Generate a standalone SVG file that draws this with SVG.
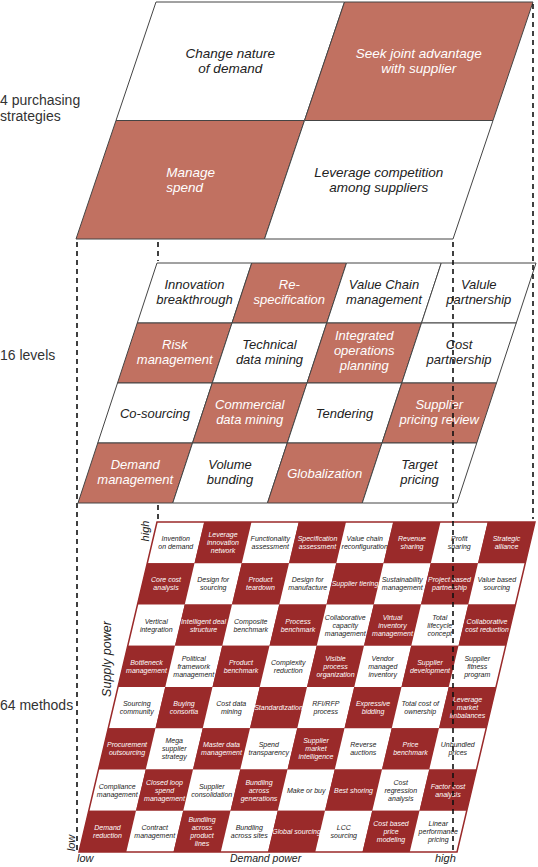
<svg xmlns="http://www.w3.org/2000/svg" xmlns:xlink="http://www.w3.org/1999/xlink" width="538" height="867" viewBox="0 0 538 867">
<style>
.t{font-family:"Liberation Sans",Arial,sans-serif;font-style:italic}
.lab{font-family:"Liberation Sans",Arial,sans-serif;font-size:14px;fill:#333}
.big{font-size:13.5px;text-anchor:middle}
.mid{font-size:13px;text-anchor:middle}
.sm{font-size:7px;text-anchor:middle}
.ax{font-size:11px;fill:#222}
.dk{fill:#222}
.wt{fill:#fff}
.cr{fill:#C17161;stroke:#444;stroke-width:1}
.cw{fill:#fff;stroke:#444;stroke-width:1}
.br{fill:#9A2A2A}
.bw{fill:#fff}
.dash{stroke:#111;stroke-width:1.6;stroke-dasharray:5 4;fill:none}
</style>
<defs>
<polygon id="pT" points="-74.25,-59.25 114.25,-59.25 74.25,59.25 -114.25,59.25"/>
<polygon id="pM" points="-37.5,-30 57.25,-30 37.5,30 -57.25,30"/>
<polygon id="pB" points="-18.75,-20.625 28.5,-20.625 18.75,20.625 -28.5,20.625"/>
</defs>
<rect width="538" height="867" fill="#fff"/>

<g id="labels">
<text class="lab" x="0" y="105">4 purchasing</text>
<text class="lab" x="0" y="121">strategies</text>
<text class="lab" x="0" y="360">16 levels</text>
<text class="lab" x="0" y="710">64 methods</text>
</g>

<g id="strategies">
<g id="s-change" transform="translate(230.25,61.25)"><use href="#pT" class="cw"/><text class="t big dk"><tspan x="0" y="-3.5">Change nature</tspan><tspan x="0" y="12">of demand</tspan></text></g>
<g id="s-seek" transform="translate(418.75,61.25)"><use href="#pT" class="cr"/><text class="t big wt"><tspan x="0" y="-3.5">Seek joint advantage</tspan><tspan x="0" y="12">with supplier</tspan></text></g>
<g id="s-manage" transform="translate(190.25,179.75)"><use href="#pT" class="cr"/><text class="t wt" style="font-size:13.5px"><tspan x="-24" y="-3">Manage</tspan><tspan x="-24" y="12.5">spend</tspan></text></g>
<g id="s-leverage" transform="translate(378.75,179.75)"><use href="#pT" class="cw"/><text class="t big dk"><tspan x="0" y="-3">Leverage competition</tspan><tspan x="0" y="12.5">among suppliers</tspan></text></g>
</g>

<g id="levels">
<g id="l-1-1" transform="translate(194.5,293)"><use href="#pM" class="cw"/><text class="t mid dk"><tspan x="0" y="-4">Innovation</tspan><tspan x="0" y="11">breakthrough</tspan></text></g>
<g id="l-1-2" transform="translate(289.25,293)"><use href="#pM" class="cr"/><text class="t mid wt"><tspan x="0" y="-4">Re-</tspan><tspan x="0" y="11">specification</tspan></text></g>
<g id="l-1-3" transform="translate(384,293)"><use href="#pM" class="cw"/><text class="t mid dk"><tspan x="0" y="-4">Value Chain</tspan><tspan x="0" y="11">management</tspan></text></g>
<g id="l-1-4" transform="translate(478.75,293)"><use href="#pM" class="cw"/><text class="t mid dk"><tspan x="0" y="-4">Valule</tspan><tspan x="0" y="11">partnership</tspan></text></g>

<g id="l-2-1" transform="translate(174.75,353)"><use href="#pM" class="cr"/><text class="t mid wt"><tspan x="0" y="-4">Risk</tspan><tspan x="0" y="11">management</tspan></text></g>
<g id="l-2-2" transform="translate(269.5,353)"><use href="#pM" class="cw"/><text class="t mid dk"><tspan x="0" y="-4">Technical</tspan><tspan x="0" y="11">data mining</tspan></text></g>
<g id="l-2-3" transform="translate(364.25,353)"><use href="#pM" class="cr"/><text class="t mid wt"><tspan x="0" y="-13">Integrated</tspan><tspan x="0" y="2">operations</tspan><tspan x="0" y="17">planning</tspan></text></g>
<g id="l-2-4" transform="translate(459,353)"><use href="#pM" class="cw"/><text class="t mid dk"><tspan x="0" y="-4">Cost</tspan><tspan x="0" y="11">partnership</tspan></text></g>

<g id="l-3-1" transform="translate(155,413)"><use href="#pM" class="cw"/><text class="t mid dk"><tspan x="0" y="5">Co-sourcing</tspan></text></g>
<g id="l-3-2" transform="translate(249.75,413)"><use href="#pM" class="cr"/><text class="t mid wt"><tspan x="0" y="-4">Commercial</tspan><tspan x="0" y="11">data mining</tspan></text></g>
<g id="l-3-3" transform="translate(344.5,413)"><use href="#pM" class="cw"/><text class="t mid dk"><tspan x="0" y="5">Tendering</tspan></text></g>
<g id="l-3-4" transform="translate(439.25,413)"><use href="#pM" class="cr"/><text class="t mid wt"><tspan x="0" y="-4">Supplier</tspan><tspan x="0" y="11">pricing review</tspan></text></g>

<g id="l-4-1" transform="translate(135.25,473)"><use href="#pM" class="cr"/><text class="t mid wt"><tspan x="0" y="-4">Demand</tspan><tspan x="0" y="11">management</tspan></text></g>
<g id="l-4-2" transform="translate(230,473)"><use href="#pM" class="cw"/><text class="t mid dk"><tspan x="0" y="-4">Volume</tspan><tspan x="0" y="11">bunding</tspan></text></g>
<g id="l-4-3" transform="translate(324.75,473)"><use href="#pM" class="cr"/><text class="t mid wt"><tspan x="0" y="5">Globalization</tspan></text></g>
<g id="l-4-4" transform="translate(419.5,473)"><use href="#pM" class="cw"/><text class="t mid dk"><tspan x="0" y="-4">Target</tspan><tspan x="0" y="11">pricing</tspan></text></g>
</g>

<g id="methods">
<polygon points="157,522 535,522 457,852 79,852" fill="#9A2A2A"/>
<g id="m-1-1" transform="translate(175.75,542.625)"><use href="#pB" class="bw"/><text class="t sm dk"><tspan x="0" y="-1.5">Invention</tspan><tspan x="0" y="6.5">on demand</tspan></text></g>
<g id="m-1-2" transform="translate(223,542.625)"><use href="#pB" class="br"/><text class="t sm wt"><tspan x="0" y="-5.5">Leverage</tspan><tspan x="0" y="2.5">innovation</tspan><tspan x="0" y="10.5">network</tspan></text></g>
<g id="m-1-3" transform="translate(270.25,542.625)"><use href="#pB" class="bw"/><text class="t sm dk"><tspan x="0" y="-1.5">Functionality</tspan><tspan x="0" y="6.5">assessment</tspan></text></g>
<g id="m-1-4" transform="translate(317.5,542.625)"><use href="#pB" class="br"/><text class="t sm wt"><tspan x="0" y="-1.5">Specification</tspan><tspan x="0" y="6.5">assessment</tspan></text></g>
<g id="m-1-5" transform="translate(364.75,542.625)"><use href="#pB" class="bw"/><text class="t sm dk"><tspan x="0" y="-1.5">Value chain</tspan><tspan x="0" y="6.5">reconfiguration</tspan></text></g>
<g id="m-1-6" transform="translate(412,542.625)"><use href="#pB" class="br"/><text class="t sm wt"><tspan x="0" y="-1.5">Revenue</tspan><tspan x="0" y="6.5">sharing</tspan></text></g>
<g id="m-1-7" transform="translate(459.25,542.625)"><use href="#pB" class="bw"/><text class="t sm dk"><tspan x="0" y="-1.5">Profit</tspan><tspan x="0" y="6.5">sharing</tspan></text></g>
<g id="m-1-8" transform="translate(506.5,542.625)"><use href="#pB" class="br"/><text class="t sm wt"><tspan x="0" y="-1.5">Strategic</tspan><tspan x="0" y="6.5">alliance</tspan></text></g>

<g id="m-2-1" transform="translate(166,583.875)"><use href="#pB" class="br"/><text class="t sm wt"><tspan x="0" y="-1.5">Core cost</tspan><tspan x="0" y="6.5">analysis</tspan></text></g>
<g id="m-2-2" transform="translate(213.25,583.875)"><use href="#pB" class="bw"/><text class="t sm dk"><tspan x="0" y="-1.5">Design for</tspan><tspan x="0" y="6.5">sourcing</tspan></text></g>
<g id="m-2-3" transform="translate(260.5,583.875)"><use href="#pB" class="br"/><text class="t sm wt"><tspan x="0" y="-1.5">Product</tspan><tspan x="0" y="6.5">teardown</tspan></text></g>
<g id="m-2-4" transform="translate(307.75,583.875)"><use href="#pB" class="bw"/><text class="t sm dk"><tspan x="0" y="-1.5">Design for</tspan><tspan x="0" y="6.5">manufacture</tspan></text></g>
<g id="m-2-5" transform="translate(355,583.875)"><use href="#pB" class="br"/><text class="t sm wt"><tspan x="0" y="2.5">Supplier tiering</tspan></text></g>
<g id="m-2-6" transform="translate(402.25,583.875)"><use href="#pB" class="bw"/><text class="t sm dk"><tspan x="0" y="-1.5">Sustainability</tspan><tspan x="0" y="6.5">management</tspan></text></g>
<g id="m-2-7" transform="translate(449.5,583.875)"><use href="#pB" class="br"/><text class="t sm wt"><tspan x="0" y="-1.5">Project based</tspan><tspan x="0" y="6.5">partnership</tspan></text></g>
<g id="m-2-8" transform="translate(496.75,583.875)"><use href="#pB" class="bw"/><text class="t sm dk"><tspan x="0" y="-1.5">Value based</tspan><tspan x="0" y="6.5">sourcing</tspan></text></g>

<g id="m-3-1" transform="translate(156.25,625.125)"><use href="#pB" class="bw"/><text class="t sm dk"><tspan x="0" y="-1.5">Vertical</tspan><tspan x="0" y="6.5">integration</tspan></text></g>
<g id="m-3-2" transform="translate(203.5,625.125)"><use href="#pB" class="br"/><text class="t sm wt"><tspan x="0" y="-1.5">Intelligent deal</tspan><tspan x="0" y="6.5">structure</tspan></text></g>
<g id="m-3-3" transform="translate(250.75,625.125)"><use href="#pB" class="bw"/><text class="t sm dk"><tspan x="0" y="-1.5">Composite</tspan><tspan x="0" y="6.5">benchmark</tspan></text></g>
<g id="m-3-4" transform="translate(298,625.125)"><use href="#pB" class="br"/><text class="t sm wt"><tspan x="0" y="-1.5">Process</tspan><tspan x="0" y="6.5">benchmark</tspan></text></g>
<g id="m-3-5" transform="translate(345.25,625.125)"><use href="#pB" class="bw"/><text class="t sm dk"><tspan x="0" y="-5.5">Collaborative</tspan><tspan x="0" y="2.5">capacity</tspan><tspan x="0" y="10.5">management</tspan></text></g>
<g id="m-3-6" transform="translate(392.5,625.125)"><use href="#pB" class="br"/><text class="t sm wt"><tspan x="0" y="-5.5">Virtual</tspan><tspan x="0" y="2.5">inventory</tspan><tspan x="0" y="10.5">management</tspan></text></g>
<g id="m-3-7" transform="translate(439.75,625.125)"><use href="#pB" class="bw"/><text class="t sm dk"><tspan x="0" y="-5.5">Total</tspan><tspan x="0" y="2.5">lifecycle</tspan><tspan x="0" y="10.5">concept</tspan></text></g>
<g id="m-3-8" transform="translate(487,625.125)"><use href="#pB" class="br"/><text class="t sm wt"><tspan x="0" y="-1.5">Collaborative</tspan><tspan x="0" y="6.5">cost reduction</tspan></text></g>

<g id="m-4-1" transform="translate(146.5,666.375)"><use href="#pB" class="br"/><text class="t sm wt"><tspan x="0" y="-1.5">Bottleneck</tspan><tspan x="0" y="6.5">management</tspan></text></g>
<g id="m-4-2" transform="translate(193.75,666.375)"><use href="#pB" class="bw"/><text class="t sm dk"><tspan x="0" y="-5.5">Political</tspan><tspan x="0" y="2.5">framework</tspan><tspan x="0" y="10.5">management</tspan></text></g>
<g id="m-4-3" transform="translate(241,666.375)"><use href="#pB" class="br"/><text class="t sm wt"><tspan x="0" y="-1.5">Product</tspan><tspan x="0" y="6.5">benchmark</tspan></text></g>
<g id="m-4-4" transform="translate(288.25,666.375)"><use href="#pB" class="bw"/><text class="t sm dk"><tspan x="0" y="-1.5">Complexity</tspan><tspan x="0" y="6.5">reduction</tspan></text></g>
<g id="m-4-5" transform="translate(335.5,666.375)"><use href="#pB" class="br"/><text class="t sm wt"><tspan x="0" y="-5.5">Visible</tspan><tspan x="0" y="2.5">process</tspan><tspan x="0" y="10.5">organization</tspan></text></g>
<g id="m-4-6" transform="translate(382.75,666.375)"><use href="#pB" class="bw"/><text class="t sm dk"><tspan x="0" y="-5.5">Vendor</tspan><tspan x="0" y="2.5">managed</tspan><tspan x="0" y="10.5">inventory</tspan></text></g>
<g id="m-4-7" transform="translate(430,666.375)"><use href="#pB" class="br"/><text class="t sm wt"><tspan x="0" y="-1.5">Supplier</tspan><tspan x="0" y="6.5">development</tspan></text></g>
<g id="m-4-8" transform="translate(477.25,666.375)"><use href="#pB" class="bw"/><text class="t sm dk"><tspan x="0" y="-5.5">Supplier</tspan><tspan x="0" y="2.5">fitness</tspan><tspan x="0" y="10.5">program</tspan></text></g>

<g id="m-5-1" transform="translate(136.75,707.625)"><use href="#pB" class="bw"/><text class="t sm dk"><tspan x="0" y="-1.5">Sourcing</tspan><tspan x="0" y="6.5">community</tspan></text></g>
<g id="m-5-2" transform="translate(184,707.625)"><use href="#pB" class="br"/><text class="t sm wt"><tspan x="0" y="-1.5">Buying</tspan><tspan x="0" y="6.5">consortia</tspan></text></g>
<g id="m-5-3" transform="translate(231.25,707.625)"><use href="#pB" class="bw"/><text class="t sm dk"><tspan x="0" y="-1.5">Cost data</tspan><tspan x="0" y="6.5">mining</tspan></text></g>
<g id="m-5-4" transform="translate(278.5,707.625)"><use href="#pB" class="br"/><text class="t sm wt"><tspan x="0" y="2.5">Standardization</tspan></text></g>
<g id="m-5-5" transform="translate(325.75,707.625)"><use href="#pB" class="bw"/><text class="t sm dk"><tspan x="0" y="-1.5">RFI/RFP</tspan><tspan x="0" y="6.5">process</tspan></text></g>
<g id="m-5-6" transform="translate(373,707.625)"><use href="#pB" class="br"/><text class="t sm wt"><tspan x="0" y="-1.5">Expressive</tspan><tspan x="0" y="6.5">bidding</tspan></text></g>
<g id="m-5-7" transform="translate(420.25,707.625)"><use href="#pB" class="bw"/><text class="t sm dk"><tspan x="0" y="-1.5">Total cost of</tspan><tspan x="0" y="6.5">ownership</tspan></text></g>
<g id="m-5-8" transform="translate(467.5,707.625)"><use href="#pB" class="br"/><text class="t sm wt"><tspan x="0" y="-5.5">Leverage</tspan><tspan x="0" y="2.5">market</tspan><tspan x="0" y="10.5">imbalances</tspan></text></g>

<g id="m-6-1" transform="translate(127,748.875)"><use href="#pB" class="br"/><text class="t sm wt"><tspan x="0" y="-1.5">Procurement</tspan><tspan x="0" y="6.5">outsourcing</tspan></text></g>
<g id="m-6-2" transform="translate(174.25,748.875)"><use href="#pB" class="bw"/><text class="t sm dk"><tspan x="0" y="-5.5">Mega</tspan><tspan x="0" y="2.5">supplier</tspan><tspan x="0" y="10.5">strategy</tspan></text></g>
<g id="m-6-3" transform="translate(221.5,748.875)"><use href="#pB" class="br"/><text class="t sm wt"><tspan x="0" y="-1.5">Master data</tspan><tspan x="0" y="6.5">management</tspan></text></g>
<g id="m-6-4" transform="translate(268.75,748.875)"><use href="#pB" class="bw"/><text class="t sm dk"><tspan x="0" y="-1.5">Spend</tspan><tspan x="0" y="6.5">transparency</tspan></text></g>
<g id="m-6-5" transform="translate(316,748.875)"><use href="#pB" class="br"/><text class="t sm wt"><tspan x="0" y="-5.5">Supplier</tspan><tspan x="0" y="2.5">market</tspan><tspan x="0" y="10.5">intelligence</tspan></text></g>
<g id="m-6-6" transform="translate(363.25,748.875)"><use href="#pB" class="bw"/><text class="t sm dk"><tspan x="0" y="-1.5">Reverse</tspan><tspan x="0" y="6.5">auctions</tspan></text></g>
<g id="m-6-7" transform="translate(410.5,748.875)"><use href="#pB" class="br"/><text class="t sm wt"><tspan x="0" y="-1.5">Price</tspan><tspan x="0" y="6.5">benchmark</tspan></text></g>
<g id="m-6-8" transform="translate(457.75,748.875)"><use href="#pB" class="bw"/><text class="t sm dk"><tspan x="0" y="-1.5">Unbundled</tspan><tspan x="0" y="6.5">prices</tspan></text></g>

<g id="m-7-1" transform="translate(117.25,790.125)"><use href="#pB" class="bw"/><text class="t sm dk"><tspan x="0" y="-1.5">Compliance</tspan><tspan x="0" y="6.5">management</tspan></text></g>
<g id="m-7-2" transform="translate(164.5,790.125)"><use href="#pB" class="br"/><text class="t sm wt"><tspan x="0" y="-5.5">Closed loop</tspan><tspan x="0" y="2.5">spend</tspan><tspan x="0" y="10.5">management</tspan></text></g>
<g id="m-7-3" transform="translate(211.75,790.125)"><use href="#pB" class="bw"/><text class="t sm dk"><tspan x="0" y="-1.5">Supplier</tspan><tspan x="0" y="6.5">consolidation</tspan></text></g>
<g id="m-7-4" transform="translate(259,790.125)"><use href="#pB" class="br"/><text class="t sm wt"><tspan x="0" y="-5.5">Bundling</tspan><tspan x="0" y="2.5">across</tspan><tspan x="0" y="10.5">generations</tspan></text></g>
<g id="m-7-5" transform="translate(306.25,790.125)"><use href="#pB" class="bw"/><text class="t sm dk"><tspan x="0" y="2.5">Make or buy</tspan></text></g>
<g id="m-7-6" transform="translate(353.5,790.125)"><use href="#pB" class="br"/><text class="t sm wt"><tspan x="0" y="2.5">Best shoring</tspan></text></g>
<g id="m-7-7" transform="translate(400.75,790.125)"><use href="#pB" class="bw"/><text class="t sm dk"><tspan x="0" y="-5.5">Cost</tspan><tspan x="0" y="2.5">regression</tspan><tspan x="0" y="10.5">analysis</tspan></text></g>
<g id="m-7-8" transform="translate(448,790.125)"><use href="#pB" class="br"/><text class="t sm wt"><tspan x="0" y="-1.5">Factor cost</tspan><tspan x="0" y="6.5">analysis</tspan></text></g>

<g id="m-8-1" transform="translate(107.5,831.375)"><use href="#pB" class="br"/><text class="t sm wt"><tspan x="0" y="-1.5">Demand</tspan><tspan x="0" y="6.5">reduction</tspan></text></g>
<g id="m-8-2" transform="translate(154.75,831.375)"><use href="#pB" class="bw"/><text class="t sm dk"><tspan x="0" y="-1.5">Contract</tspan><tspan x="0" y="6.5">management</tspan></text></g>
<g id="m-8-3" transform="translate(202,831.375)"><use href="#pB" class="br"/><text class="t sm wt"><tspan x="0" y="-9.5">Bundling</tspan><tspan x="0" y="-1.5">across</tspan><tspan x="0" y="6.5">product</tspan><tspan x="0" y="14.5">lines</tspan></text></g>
<g id="m-8-4" transform="translate(249.25,831.375)"><use href="#pB" class="bw"/><text class="t sm dk"><tspan x="0" y="-1.5">Bundling</tspan><tspan x="0" y="6.5">across sites</tspan></text></g>
<g id="m-8-5" transform="translate(296.5,831.375)"><use href="#pB" class="br"/><text class="t sm wt"><tspan x="0" y="2.5">Global sourcing</tspan></text></g>
<g id="m-8-6" transform="translate(343.75,831.375)"><use href="#pB" class="bw"/><text class="t sm dk"><tspan x="0" y="-1.5">LCC</tspan><tspan x="0" y="6.5">sourcing</tspan></text></g>
<g id="m-8-7" transform="translate(391,831.375)"><use href="#pB" class="br"/><text class="t sm wt"><tspan x="0" y="-5.5">Cost based</tspan><tspan x="0" y="2.5">price</tspan><tspan x="0" y="10.5">modeling</tspan></text></g>
<g id="m-8-8" transform="translate(438.25,831.375)"><use href="#pB" class="bw"/><text class="t sm dk"><tspan x="0" y="-5.5">Linear</tspan><tspan x="0" y="2.5">performance</tspan><tspan x="0" y="10.5">pricing</tspan></text></g>
<polygon points="157,522 535,522 457,852 79,852" fill="none" stroke="#9A2A2A" stroke-width="1.5"/>
</g>

<g id="axes">
<text class="t ax" transform="translate(149,531) rotate(-90)" text-anchor="middle">high</text>
<text class="t ax" transform="translate(111,659) rotate(-90)" text-anchor="middle" style="font-size:12.5px">Supply power</text>
<text class="t ax" transform="translate(75,843) rotate(-90)" text-anchor="middle">low</text>
<text class="t ax" x="77" y="862">low</text>
<text class="t ax" x="230" y="862" style="font-size:10.5px">Demand power</text>
<text class="t ax" x="435" y="862">high</text>
</g>

<g id="connectors">
<line class="dash" x1="533" y1="4" x2="533" y2="519"/>
<line class="dash" x1="77" y1="242" x2="77" y2="851"/>
<line class="dash" x1="158" y1="242" x2="158" y2="261"/>
<line class="dash" x1="158" y1="505" x2="158" y2="520"/>
<line class="dash" x1="453" y1="242" x2="453" y2="851"/>
</g>
</svg>
